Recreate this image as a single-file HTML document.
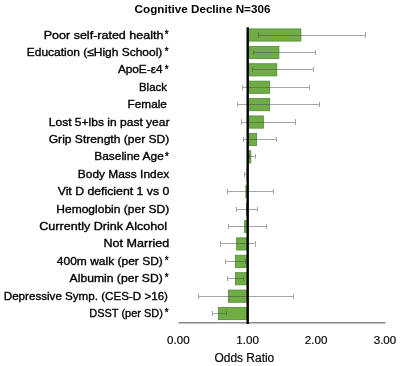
<!DOCTYPE html>
<html lang="en"><head><meta charset="utf-8"><title>Cognitive Decline N=306</title>
<style>html,body{margin:0;padding:0;background:#fff}svg{display:block}text{font-family:"Liberation Sans",sans-serif;fill:#000}</style></head><body>
<svg width="400" height="366" viewBox="0 0 400 366"><defs><filter id="soft" x="-5%" y="-5%" width="110%" height="110%"><feGaussianBlur stdDeviation="0.4"/></filter></defs>
<rect width="400" height="366" fill="#fff"/><g filter="url(#soft)">
<text x="134.6" y="13.4" font-size="11.4" font-weight="bold" textLength="135.8" lengthAdjust="spacingAndGlyphs" fill="#000">Cognitive Decline N=306</text>
<line x1="178.5" y1="322.75" x2="385.5" y2="322.75" stroke="#8a8a8a" stroke-width="1.3"/>
<g><rect x="248.00" y="28.91" width="52.90" height="12.2" fill="#70ad47" stroke="#4f8c31" stroke-width="0.8"/><rect x="248.00" y="46.32" width="30.90" height="12.2" fill="#70ad47" stroke="#4f8c31" stroke-width="0.8"/><rect x="248.00" y="63.73" width="28.80" height="12.2" fill="#70ad47" stroke="#4f8c31" stroke-width="0.8"/><rect x="248.00" y="81.14" width="21.60" height="12.2" fill="#70ad47" stroke="#4f8c31" stroke-width="0.8"/><rect x="248.00" y="98.55" width="21.60" height="12.2" fill="#70ad47" stroke="#4f8c31" stroke-width="0.8"/><rect x="248.00" y="115.95" width="15.35" height="12.2" fill="#70ad47" stroke="#4f8c31" stroke-width="0.8"/><rect x="248.00" y="133.37" width="8.60" height="12.2" fill="#70ad47" stroke="#4f8c31" stroke-width="0.8"/><rect x="248.00" y="150.78" width="2.85" height="12.2" fill="#70ad47" stroke="#4f8c31" stroke-width="0.8"/><rect x="247.00" y="168.19" width="0.20" height="12.2" fill="#70ad47" stroke="#4f8c31" stroke-width="0.8"/><rect x="245.90" y="185.60" width="1.30" height="12.2" fill="#70ad47" stroke="#4f8c31" stroke-width="0.8"/><rect x="246.40" y="203.01" width="0.80" height="12.2" fill="#70ad47" stroke="#4f8c31" stroke-width="0.8"/><rect x="244.65" y="220.42" width="2.55" height="12.2" fill="#70ad47" stroke="#4f8c31" stroke-width="0.8"/><rect x="236.65" y="237.83" width="10.55" height="12.2" fill="#70ad47" stroke="#4f8c31" stroke-width="0.8"/><rect x="235.40" y="255.23" width="11.80" height="12.2" fill="#70ad47" stroke="#4f8c31" stroke-width="0.8"/><rect x="235.40" y="272.64" width="11.80" height="12.2" fill="#70ad47" stroke="#4f8c31" stroke-width="0.8"/><rect x="228.40" y="290.06" width="18.80" height="12.2" fill="#70ad47" stroke="#4f8c31" stroke-width="0.8"/><rect x="218.40" y="307.46" width="28.80" height="12.2" fill="#70ad47" stroke="#4f8c31" stroke-width="0.8"/></g>
<g fill="none" stroke="#444" stroke-opacity="0.48" stroke-width="1" shape-rendering="crispEdges"><path d="M258.20 35.01H365.70M258.20 32.41v5.2M365.70 32.41v5.2"/><path d="M253.00 52.42H315.60M253.00 49.82v5.2M315.60 49.82v5.2"/><path d="M252.50 69.83H313.60M252.50 67.23v5.2M313.60 67.23v5.2"/><path d="M242.50 87.23H309.50M242.50 84.64v5.2M309.50 84.64v5.2"/><path d="M237.30 104.64H319.80M237.30 102.05v5.2M319.80 102.05v5.2"/><path d="M241.50 122.05H295.00M241.50 119.45v5.2M295.00 119.45v5.2"/><path d="M243.75 139.47H276.25M243.75 136.87v5.2M276.25 136.87v5.2"/><path d="M249.80 156.88H255.00M249.80 154.28v5.2M255.00 154.28v5.2"/><path d="M244.25 174.29H247.60M244.25 171.69v5.2M247.60 171.69v5.2"/><path d="M227.00 191.70H273.00M227.00 189.10v5.2M273.00 189.10v5.2"/><path d="M236.25 209.11H257.00M236.25 206.51v5.2M257.00 206.51v5.2"/><path d="M228.00 226.52H266.75M228.00 223.92v5.2M266.75 223.92v5.2"/><path d="M220.75 243.93H255.00M220.75 241.33v5.2M255.00 241.33v5.2"/><path d="M225.75 261.33H245.50M225.75 258.73v5.2M245.50 258.73v5.2"/><path d="M227.00 278.75H243.00M227.00 276.14v5.2M243.00 276.14v5.2"/><path d="M198.75 296.16H293.75M198.75 293.56v5.2M293.75 293.56v5.2"/><path d="M212.50 313.56H226.25M212.50 310.96v5.2M226.25 310.96v5.2"/></g>
<rect x="246.5" y="27.3" width="2.4" height="296.7" fill="#000"/>
<g font-size="11.4" stroke="#000" stroke-width="0.35" fill="#000"><text x="43.75" y="38.51" textLength="119.65" lengthAdjust="spacingAndGlyphs">Poor self-rated health</text><text x="164.80" y="37.71" font-size="10.5" textLength="3.8" lengthAdjust="spacingAndGlyphs">*</text><text x="26.75" y="55.92" textLength="135.55" lengthAdjust="spacingAndGlyphs">Education (≤High School)</text><text x="164.80" y="55.12" font-size="10.5" textLength="3.8" lengthAdjust="spacingAndGlyphs">*</text><text x="117.90" y="73.33" textLength="44.60" lengthAdjust="spacingAndGlyphs">ApoE-ε4</text><text x="164.80" y="72.53" font-size="10.5" textLength="3.8" lengthAdjust="spacingAndGlyphs">*</text><text x="139.00" y="90.73" textLength="27.90" lengthAdjust="spacingAndGlyphs">Black</text><text x="127.50" y="108.14" textLength="39.40" lengthAdjust="spacingAndGlyphs">Female</text><text x="48.75" y="125.55" textLength="120.75" lengthAdjust="spacingAndGlyphs">Lost 5+lbs in past year</text><text x="48.75" y="142.97" textLength="120.55" lengthAdjust="spacingAndGlyphs">Grip Strength (per SD)</text><text x="94.30" y="160.38" textLength="69.50" lengthAdjust="spacingAndGlyphs">Baseline Age</text><text x="165.10" y="159.57" font-size="10.5" textLength="3.8" lengthAdjust="spacingAndGlyphs">*</text><text x="77.80" y="177.79" textLength="91.50" lengthAdjust="spacingAndGlyphs">Body Mass Index</text><text x="57.70" y="195.20" textLength="111.60" lengthAdjust="spacingAndGlyphs">Vit D deficient 1 vs 0</text><text x="56.25" y="212.61" textLength="113.05" lengthAdjust="spacingAndGlyphs">Hemoglobin (per SD)</text><text x="39.30" y="230.02" textLength="127.70" lengthAdjust="spacingAndGlyphs">Currently Drink Alcohol</text><text x="103.50" y="247.43" textLength="65.70" lengthAdjust="spacingAndGlyphs">Not Married</text><text x="56.80" y="264.83" textLength="106.00" lengthAdjust="spacingAndGlyphs">400m walk (per SD)</text><text x="164.80" y="264.03" font-size="10.5" textLength="3.8" lengthAdjust="spacingAndGlyphs">*</text><text x="69.60" y="282.25" textLength="93.20" lengthAdjust="spacingAndGlyphs">Albumin (per SD)</text><text x="164.80" y="281.44" font-size="10.5" textLength="3.8" lengthAdjust="spacingAndGlyphs">*</text><text x="3.75" y="299.66" textLength="164.25" lengthAdjust="spacingAndGlyphs">Depressive Symp. (CES-D >16)</text><text x="89.30" y="317.06" textLength="73.50" lengthAdjust="spacingAndGlyphs">DSST (per SD)</text><text x="164.80" y="316.26" font-size="10.5" textLength="3.8" lengthAdjust="spacingAndGlyphs">*</text></g>
<text x="167.00" y="344.3" font-size="11.7" textLength="22.6" lengthAdjust="spacingAndGlyphs" fill="#222" stroke="#222" stroke-width="0.2">0.00</text>
<text x="236.30" y="344.3" font-size="11.7" textLength="22.6" lengthAdjust="spacingAndGlyphs" fill="#222" stroke="#222" stroke-width="0.2">1.00</text>
<text x="304.80" y="344.3" font-size="11.7" textLength="22.6" lengthAdjust="spacingAndGlyphs" fill="#222" stroke="#222" stroke-width="0.2">2.00</text>
<text x="373.70" y="344.3" font-size="11.7" textLength="22.6" lengthAdjust="spacingAndGlyphs" fill="#222" stroke="#222" stroke-width="0.2">3.00</text>
<text x="214.5" y="362.3" font-size="12" textLength="59.75" lengthAdjust="spacingAndGlyphs" fill="#222" stroke="#222" stroke-width="0.2">Odds Ratio</text>
</g></svg></body></html>
